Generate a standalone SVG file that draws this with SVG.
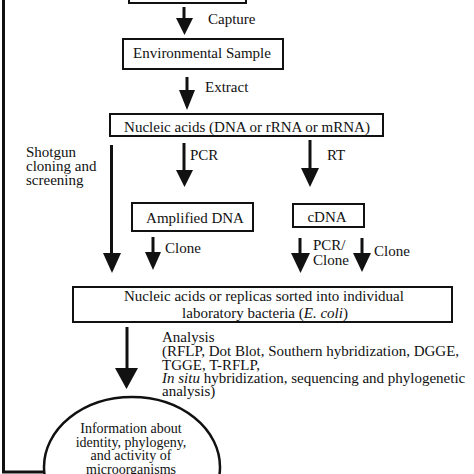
<svg xmlns="http://www.w3.org/2000/svg" width="474" height="474" viewBox="0 0 474 474">
<style>
text{font-family:"Liberation Serif","Times New Roman",serif;font-size:15px;fill:#111}
.box{fill:#fff;stroke:#111;stroke-width:2}
.shaft{stroke:#111;stroke-width:3;fill:none}
.head{fill:#111;stroke:none}
.m{text-anchor:middle}
.e{font-size:14px}
</style>
<rect width="474" height="474" fill="#fff"/>
<g id="connectors">
  <path class="shaft" d="M3.5,0 V472 H50" stroke-width="3.5"/>
  <path class="shaft" d="M184,7 V22"/><path class="head" d="M176,18 H193 L184.5,35 Z"/>
  <path class="shaft" d="M187,77 V94"/><path class="head" d="M179,90 H195 L187,110 Z"/>
  <path class="shaft" d="M111.5,145 V257"/><path class="head" d="M103,253 H121 L112,273 Z"/>
  <path class="shaft" d="M184,143 V174"/><path class="head" d="M176,170 H193 L184.5,187 Z"/>
  <path class="shaft" d="M310,140 V172"/><path class="head" d="M301,168 H319 L310,187 Z"/>
  <path class="shaft" d="M153,237 V256"/><path class="head" d="M145,252 H161 L153,270 Z"/>
  <path class="shaft" d="M300,238 V257"/><path class="head" d="M291,253 H310 L300.5,273 Z"/>
  <path class="shaft" d="M362,238 V257"/><path class="head" d="M353,253 H371 L362,272 Z"/>
  <path class="shaft" d="M127,327 V372"/><path class="head" d="M115,368 H138 L126.5,389 Z"/>
</g>
<g id="labels">
  <text x="208" y="24">Capture</text>
  <text x="205" y="92">Extract</text>
  <text x="26" y="157">Shotgun</text>
  <text x="26" y="171">cloning and</text>
  <text x="26" y="185">screening</text>
  <text x="190" y="160">PCR</text>
  <text x="327" y="160">RT</text>
  <text x="165" y="253">Clone</text>
  <text x="313" y="250">PCR/</text>
  <text x="313" y="265">Clone</text>
  <text x="374" y="256">Clone</text>
  <text x="162" y="342">Analysis</text>
  <text x="162" y="356">(RFLP, Dot Blot, Southern hybridization, DGGE,</text>
  <text x="162" y="370">TGGE, T-RFLP,</text>
  <text x="162" y="383"><tspan font-style="italic">In situ</tspan> hybridization, sequencing and phylogenetic</text>
  <text x="162" y="396">analysis)</text>
</g>
<g id="source">
  <rect class="box" x="129" y="-10" width="117" height="13"/>
</g>
<g id="env-sample">
  <rect class="box" x="123" y="39" width="160" height="30"/>
  <text class="m" x="202" y="58">Environmental Sample</text>
</g>
<g id="nucleic-acids">
  <rect class="box" x="110" y="114" width="273" height="22"/>
  <text class="m" x="247" y="132">Nucleic acids (DNA or rRNA or mRNA)</text>
</g>
<g id="amplified-dna">
  <rect class="box" x="132" y="203" width="121" height="28"/>
  <text class="m" x="195" y="223">Amplified DNA</text>
</g>
<g id="cdna">
  <rect class="box" x="293" y="204" width="71" height="23"/>
  <text class="m" x="327" y="222">cDNA</text>
</g>
<g id="sorted">
  <rect class="box" x="73" y="287" width="379" height="35"/>
  <text class="m" x="264" y="301">Nucleic acids or replicas sorted into individual</text>
  <text class="m" x="265" y="318">laboratory bacteria (<tspan font-style="italic">E. coli</tspan>)</text>
</g>
<g id="information">
  <ellipse cx="132" cy="467" rx="88" ry="70" fill="#fff" stroke="#111" stroke-width="2.5"/>
  <text class="m e" x="131" y="433">Information about</text>
  <text class="m e" x="131" y="446.5">identity, phylogeny,</text>
  <text class="m e" x="131" y="460">and activity of</text>
  <text class="m e" x="131" y="473.5">microorganisms</text>
</g>
</svg>
